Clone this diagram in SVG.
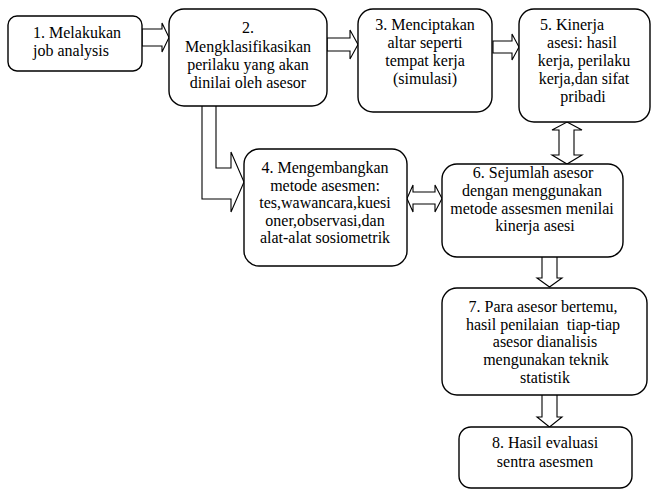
<svg xmlns="http://www.w3.org/2000/svg" width="661" height="499" viewBox="0 0 661 499" font-family="Liberation Serif, DejaVu Serif, serif" font-size="16">
<style>
.box{fill:#fff;stroke:#000;stroke-width:1.4}
.arr{fill:#fff;stroke:#000;stroke-width:1.1;stroke-linejoin:miter}
text{font-family:'Liberation Serif','DejaVu Serif',serif;font-size:16px;fill:#000;text-anchor:middle}
</style>
<rect width="661" height="499" fill="#fff"/>
<g id="connectors">
<path class="arr" d="M142,29 L162,29 L162,23 L169,37.5 L162,52 L162,46 L142,46 Z"/>
<path class="arr" d="M327,38 L350,38 L350,30 L358,44.5 L350,59 L350,51 L327,51 Z"/>
<path class="arr" d="M493,41 L512,41 L512,34 L519,47 L512,60 L512,53 L493,53 Z"/>
<path class="arr" d="M567,122 L582,130 L574,130 L574,155 L582,155 L567,164 L552,155 L559,155 L559,130 L552,130 Z"/>
<path class="arr" d="M407,198.5 L413,185 L413,192 L435,192 L435,185 L442,198.5 L435,212 L435,204 L413,204 L413,212 Z"/>
<path class="arr" d="M202,106 L202,199 L231,199 L231,212 L244,182 L231,152 L231,168 L216,168 L216,106"/>
<path class="arr" d="M542,257 L542,278 L537,278 L549.5,287 L562,278 L557,278 L557,257"/>
<path class="arr" d="M542,395 L542,417 L537,417 L549.5,427 L562,417 L557,417 L557,395"/>
</g>
<g id="node1">
<rect class="box" x="8" y="16" width="134" height="55" rx="9"/>
<text x="33" y="38" style="text-anchor:start">1. Melakukan</text>
<text x="33" y="56" style="text-anchor:start">job analysis</text>
</g>
<g id="node2">
<rect class="box" x="169" y="9" width="158" height="97" rx="15"/>
<text x="248" y="33">2.</text>
<text x="248" y="52">Mengklasifikasikan</text>
<text x="248" y="70">perilaku yang akan</text>
<text x="248" y="88">dinilai oleh asesor</text>
</g>
<g id="node3">
<rect class="box" x="358" y="9" width="134" height="103" rx="15"/>
<text x="425" y="30">3. Menciptakan</text>
<text x="425" y="48">altar seperti</text>
<text x="425" y="66">tempat kerja</text>
<text x="425" y="84">(simulasi)</text>
</g>
<g id="node5">
<rect class="box" x="519" y="9" width="131" height="113" rx="15"/>
<text x="572" y="30">5. Kinerja</text>
<text x="582" y="48">asesi: hasil</text>
<text x="584" y="66">kerja, perilaku</text>
<text x="584" y="84">kerja,dan sifat</text>
<text x="583" y="102">pribadi</text>
</g>
<g id="node4">
<rect class="box" x="244" y="149" width="163" height="117" rx="15"/>
<text x="325" y="173">4. Mengembangkan</text>
<text x="325" y="191">metode asesmen:</text>
<text x="325" y="208">tes,wawancara,kuesi</text>
<text x="325" y="226">oner,observasi,dan</text>
<text x="325" y="243">alat-alat sosiometrik</text>
</g>
<g id="node6">
<rect class="box" x="442" y="164" width="181" height="93" rx="15"/>
<text x="533" y="178">6. Sejumlah asesor</text>
<text x="532" y="196">dengan menggunakan</text>
<text x="532" y="214">metode assesmen menilai</text>
<text x="535" y="231">kinerja asesi</text>
</g>
<g id="node7">
<rect class="box" x="442" y="288" width="205" height="107" rx="15"/>
<text x="543" y="312">7. Para asesor bertemu,</text>
<text x="543" y="330" xml:space="preserve">hasil penilaian  tiap-tiap</text>
<text x="545" y="347">asesor dianalisis</text>
<text x="546" y="365">mengunakan teknik</text>
<text x="545" y="383">statistik</text>
</g>
<g id="node8">
<rect class="box" x="459" y="427" width="173" height="61" rx="12"/>
<text x="545" y="448">8. Hasil evaluasi</text>
<text x="545" y="467">sentra asesmen</text>
</g>
</svg>
